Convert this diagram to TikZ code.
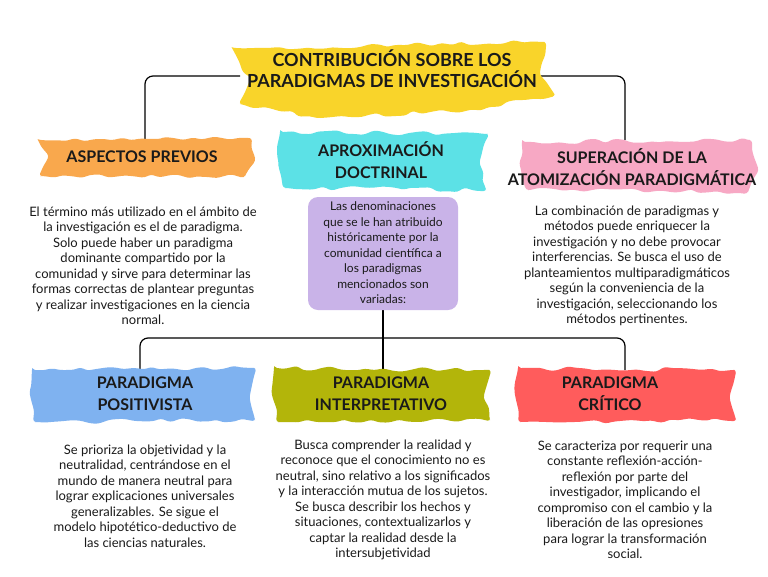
\documentclass[tikz,border=0pt]{standalone}
\usepackage{fontspec}
\setmainfont{Lato}
\usetikzlibrary{decorations.pathmorphing}
\definecolor{cyel}{HTML}{F9D42A}
\definecolor{corg}{HTML}{F9A84D}
\definecolor{ccya}{HTML}{5CE1E6}
\definecolor{cpnk}{HTML}{F7A8C4}
\definecolor{cpur}{HTML}{C9B3E8}
\definecolor{cblu}{HTML}{7FB2F0}
\definecolor{colv}{HTML}{B3B50A}
\definecolor{cred}{HTML}{FF5C5C}
\definecolor{ctxt}{HTML}{1A1A1A}
\tikzset{
 blob/.style={fill=#1, draw=none, decorate, decoration={random steps, segment length=9pt, amplitude=2.5pt}, rounded corners=3pt},
 head/.style={font=\fontsize{16}{22}\selectfont\bfseries, text=ctxt, align=center},
 body/.style={font=\fontsize{13}{15.5}\selectfont, text=ctxt, align=center},
 conn/.style={draw=black, line width=1.2pt, rounded corners=8pt}
}
\begin{document}
\begin{tikzpicture}[x=1pt,y=-1pt]
\useasboundingbox (0,0) rectangle (768,576);
\fill[white] (0,0) rectangle (768,576);
% connectors
\draw[conn] (240,76) -- (145,76) -- (145,140);
\draw[conn] (540,76) -- (625,76) -- (625,140);
\draw[conn] (383,300) -- (383,372);
\draw[conn] (140,370) -- (140,338) -- (625,338) -- (625,370);
% blobs
\path[blob=cyel] (232,48) -- (545,42) -- (540,72) -- (555,95) -- (470,110) -- (320,118) -- (240,104) -- (250,80) -- cycle;
\path[blob=corg] (38,140) -- (250,138) -- (255,158) -- (245,176) -- (40,176) -- (48,158) -- cycle;
\path[blob=ccya] (280,132) -- (488,134) -- (480,160) -- (486,190) -- (285,188) -- (278,160) -- cycle;
\path[blob=cpnk] (522,142) -- (750,140) -- (758,168) -- (748,192) -- (528,190) -- (520,166) -- cycle;
\path[blob=cblu] (32,370) -- (255,368) -- (250,395) -- (255,420) -- (35,422) -- (30,395) -- cycle;
\path[blob=colv] (274,368) -- (490,370) -- (484,395) -- (490,420) -- (278,422) -- (272,395) -- cycle;
\path[blob=cred] (518,368) -- (735,370) -- (730,395) -- (736,420) -- (520,422) -- (515,395) -- cycle;
\fill[cpur, rounded corners=10pt] (308,197) rectangle (458,310);
% heads
\node[head, font=\fontsize{18}{21}\selectfont\bfseries] (t) at (392,69) {CONTRIBUCIÓN SOBRE LOS\\PARADIGMAS DE INVESTIGACIÓN};
\node[head] (a) at (142,157) {ASPECTOS PREVIOS};
\node[head] (b) at (381,160) {APROXIMACIÓN\\DOCTRINAL};
\node[head] (c) at (632,167) {SUPERACIÓN DE LA\\ATOMIZACIÓN PARADIGMÁTICA};
\node[head] (d) at (145,394) {PARADIGMA\\POSITIVISTA};
\node[head] (e) at (381,394) {PARADIGMA\\INTERPRETATIVO};
\node[head] (f) at (610,394) {PARADIGMA\\CRÍTICO};
% bodies
\node[body] (ta) at (143,266) {El término más utilizado en el ámbito de\\la investigación es el de paradigma.\\Solo puede haber un paradigma\\dominante compartido por la\\comunidad y sirve para determinar las\\formas correctas de plantear preguntas\\y realizar investigaciones en la ciencia\\normal.};
\node[body, font=\fontsize{12}{15.5}\selectfont] (tb) at (383,253) {Las denominaciones\\que se le han atribuido\\históricamente por la\\comunidad científica a\\los paradigmas\\mencionados son\\variadas:};
\node[body] (tc) at (627,266) {La combinación de paradigmas y\\métodos puede enriquecer la\\investigación y no debe provocar\\interferencias. Se busca el uso de\\planteamientos multiparadigmáticos\\según la conveniencia de la\\investigación, seleccionando los\\métodos pertinentes.};
\node[body] (td) at (145,496) {Se prioriza la objetividad y la\\neutralidad, centrándose en el\\mundo de manera neutral para\\lograr explicaciones universales\\generalizables. Se sigue el\\modelo hipotético-deductivo de\\las ciencias naturales.};
\node[body] (te) at (383,500) {Busca comprender la realidad y\\reconoce que el conocimiento no es\\neutral, sino relativo a los significados\\y la interacción mutua de los sujetos.\\Se busca describir los hechos y\\situaciones, contextualizarlos y\\captar la realidad desde la\\intersubjetividad};
\node[body] (tf) at (625,500) {Se caracteriza por requerir una\\constante reflexión-acción-\\reflexión por parte del\\investigador, implicando el\\compromiso con el cambio y la\\liberación de las opresiones\\para lograr la transformación\\social.};
\end{tikzpicture}
\end{document}
